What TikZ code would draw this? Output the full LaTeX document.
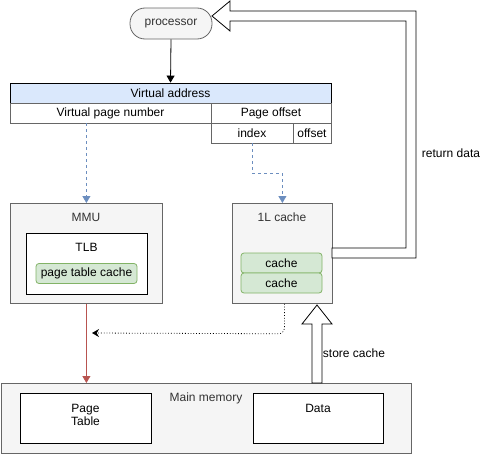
\documentclass[tikz,border=0pt]{standalone}
\usepackage{fontspec}
\setmainfont{Liberation Sans}
\usetikzlibrary{arrows.meta}
\definecolor{boxgray}{HTML}{F5F5F5}
\definecolor{linegray}{HTML}{666666}
\definecolor{textgray}{HTML}{333333}
\definecolor{vablue}{HTML}{DAE8FC}
\definecolor{arrblue}{HTML}{6C8EBF}
\definecolor{cgreen}{HTML}{D5E8D4}
\definecolor{cgreenline}{HTML}{82B366}
\definecolor{mred}{HTML}{B85450}
\tikzset{
  cell/.style={draw=linegray, fill=white, line width=0.8pt, inner sep=0pt, minimum height=20pt},
  unitbox/.style={draw=linegray, fill=boxgray, line width=0.8pt, inner sep=0pt, anchor=north west},
  whitebox/.style={draw=black, fill=white, line width=0.8pt, inner sep=0pt, anchor=north west},
  greenbox/.style={draw=cgreenline, fill=cgreen, rounded corners=3pt, line width=0.8pt, inner sep=0pt, minimum height=20pt},
  caption/.style={text=textgray, inner sep=0pt},
  blockarrow/.style={draw=black, fill=white, line width=0.8pt, line join=miter},
}
\begin{document}
\begin{tikzpicture}[x=1pt, y=-1pt, font=\fontsize{12}{14}\selectfont, >={Triangle[width=8pt,length=7pt]}]
  \useasboundingbox (0,0) rectangle (492,455);
  % processor and virtual address
  \node[draw=linegray, fill=boxgray, rounded corners=15pt, line width=0.8pt, minimum width=82pt, minimum height=31pt, inner sep=0pt, text=textgray] (proc) at (171,23.5) {processor};
  \node[cell, draw=black, fill=vablue, minimum width=321pt] (va) at (170.5,93) {Virtual address};
  \node[cell, minimum width=201pt] (vpn) at (110.5,113) {Virtual page number};
  \node[cell, minimum width=120pt] (poff) at (271,113) {Page offset};
  \node[cell, minimum width=82pt] (idx) at (252,133) {index};
  \node[cell, minimum width=38pt] (off) at (312,133) {offset};
  \draw[->, line width=0.8pt] (proc.south) -- (va.north);

  % MMU
  \node[unitbox, minimum width=152pt, minimum height=100pt] (mmu) at (10,203) {};
  \node[caption] at (86,217) {MMU};
  \node[whitebox, minimum width=121pt, minimum height=61pt] (tlb) at (26,233) {};
  \node[inner sep=0pt] at (86.5,247) {TLB};
  \node[greenbox, minimum width=101pt] (ptc) at (86.5,273.5) {page table cache};

  % 1L cache
  \node[unitbox, minimum width=100pt, minimum height=100pt] (l1) at (232,203) {};
  \node[caption] at (282,217) {1L cache};
  \node[greenbox, minimum width=81pt] (ca) at (281.5,263) {cache};
  \node[greenbox, minimum width=81pt] (cb) at (281.5,283) {cache};

  % main memory
  \node[unitbox, minimum width=410pt, minimum height=70pt] (mem) at (1,383) {};
  \node[caption] at (206,398) {Main memory};
  \node[whitebox, minimum width=131pt, minimum height=50pt] (pt) at (20,393) {};
  \node[align=center, inner sep=0pt, font=\fontsize{12}{13.5}\selectfont] at (85.5,415) {Page\\Table};
  \node[whitebox, minimum width=130pt, minimum height=50pt] (data) at (253,393) {};
  \node[inner sep=0pt] at (318,408) {Data};

  % connectors
  \draw[->, draw=arrblue, line width=0.8pt, dash pattern=on 3pt off 3pt] (vpn.south -| mmu.north) -- (mmu.north);
  \draw[->, draw=arrblue, line width=0.8pt, dash pattern=on 3pt off 3pt] (idx.south) -- ++(0,30) -| (l1.north);
  \draw[->, draw=mred, line width=0.8pt] (mmu.south) -- (mmu.south |- mem.north);
  \coordinate (drop) at (92,333);
  \draw[-{Stealth[width=8pt,length=7pt]}, line width=0.8pt, dotted, rounded corners=6pt] ([xshift=2pt]l1.south) -- ++(0,30) -- (drop);

  % block arrows
  \draw[blockarrow] (332,258) -- (416,258) -- (416,11) -- (230,11) -- (230,1) -- (212,16)
    -- (230,31) -- (230,21) -- (406,21) -- (406,248) -- (332,248) -- cycle;
  \draw[blockarrow] (312,383) -- (312,324) -- (302,324) -- (317,305) -- (332,324)
    -- (322,324) -- (322,383) -- cycle;
  \node[inner sep=0pt] (ret) at (451,153) {return data};
  \node[inner sep=0pt] (store) at (354,353) {store cache};
\end{tikzpicture}
\end{document}
